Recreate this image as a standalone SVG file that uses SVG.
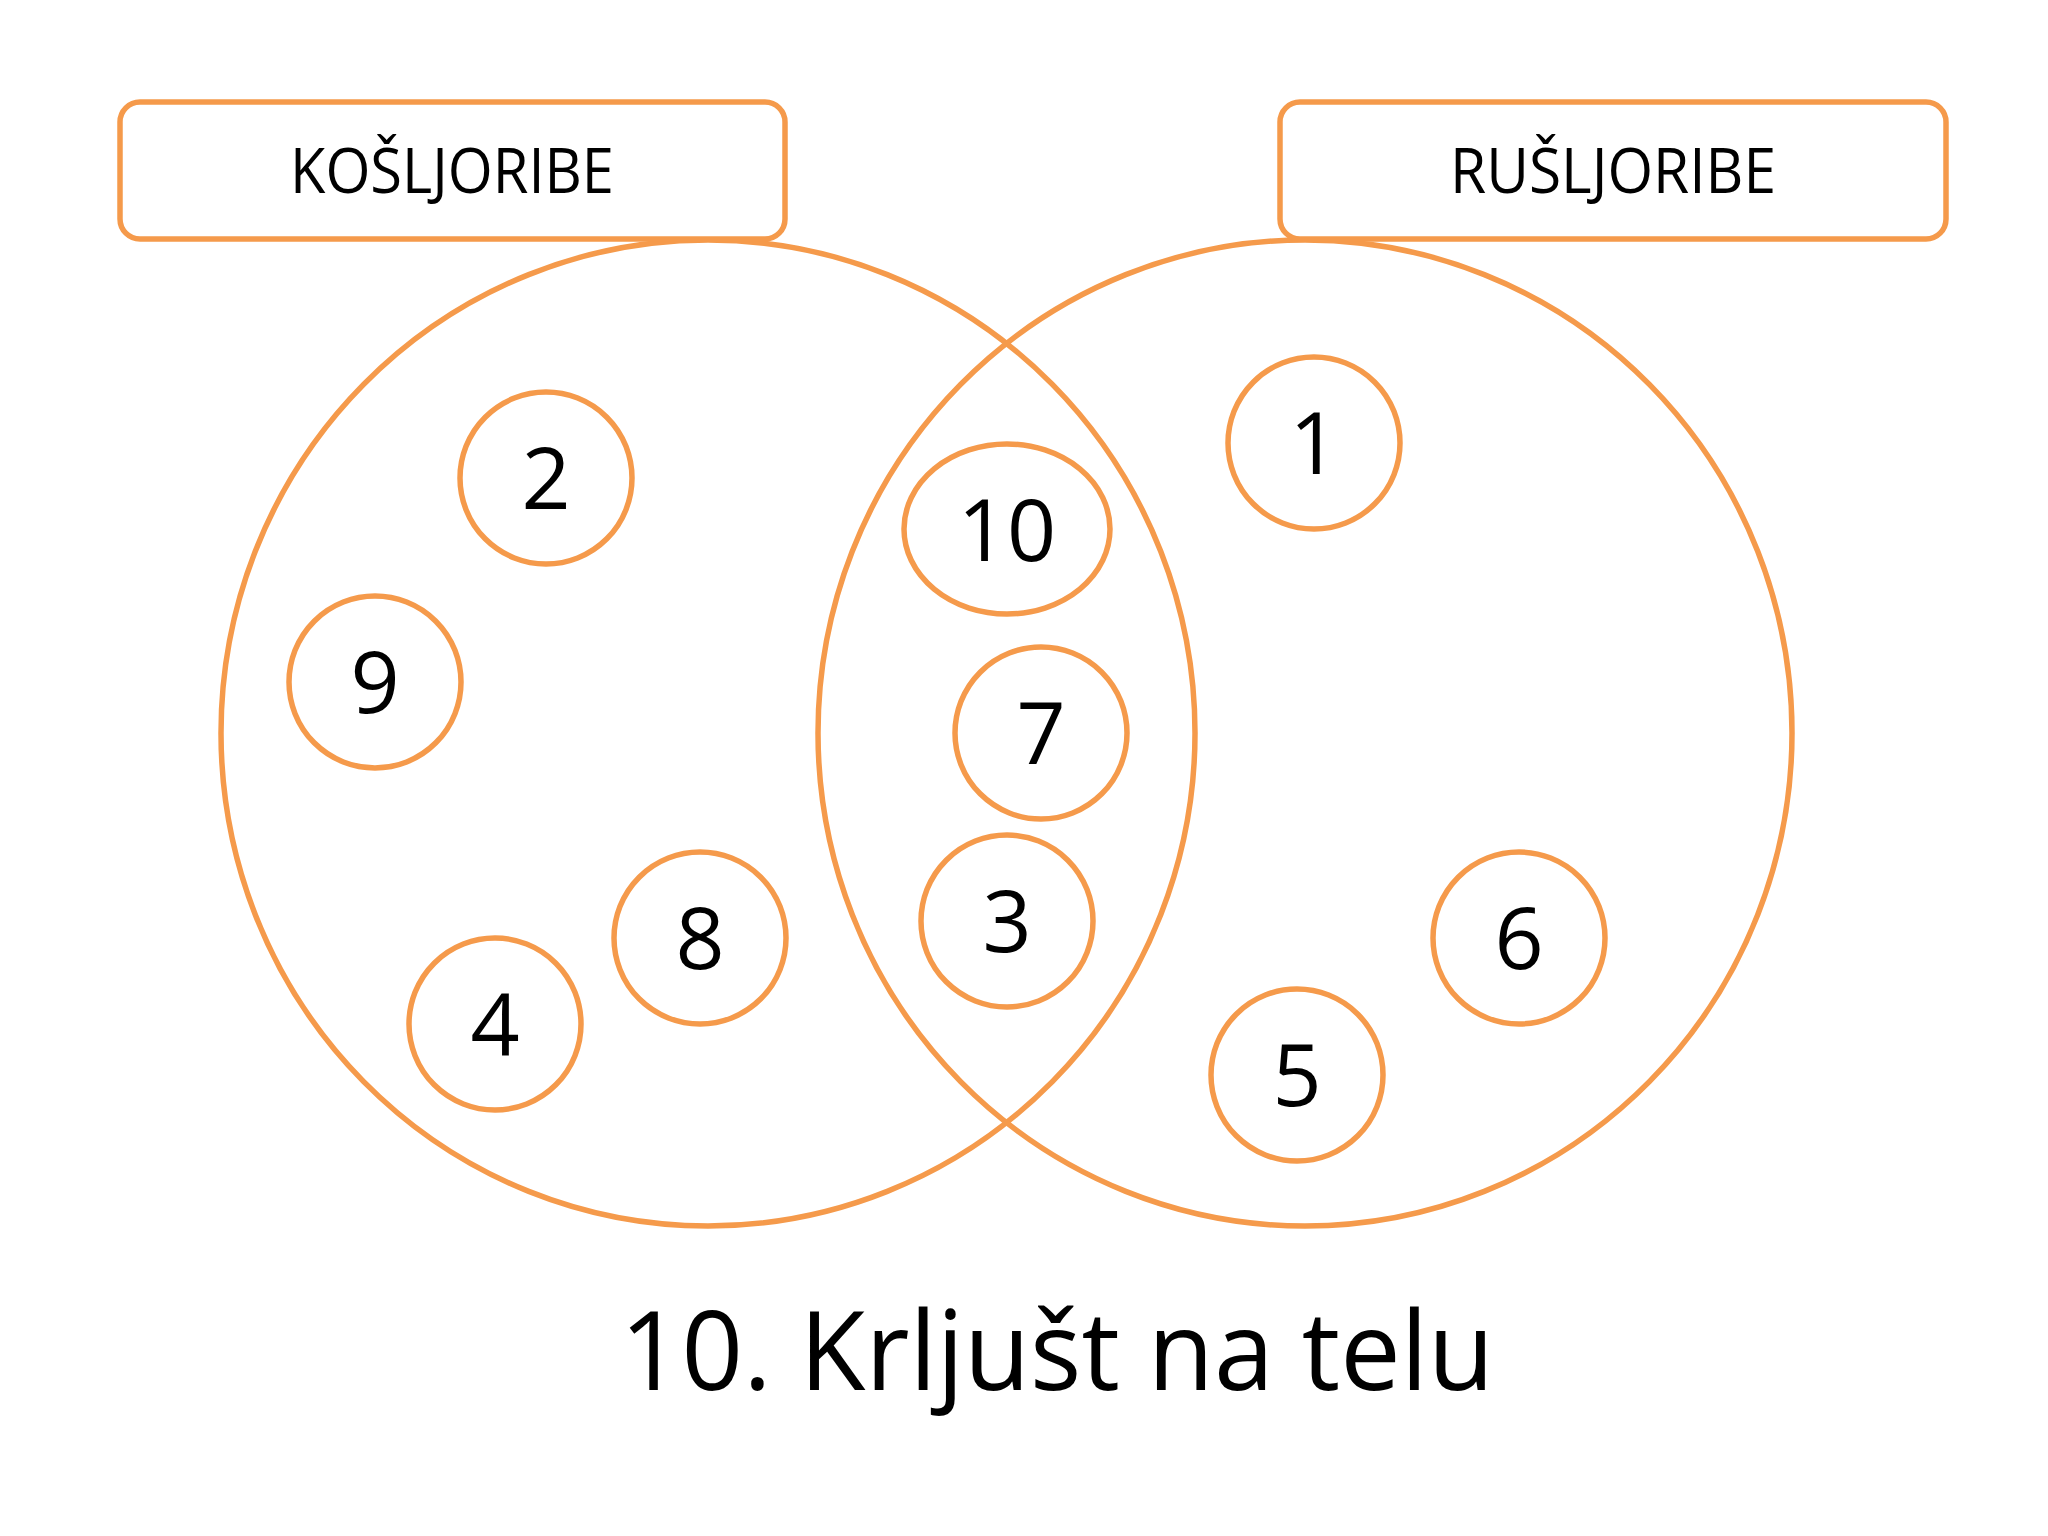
<svg xmlns="http://www.w3.org/2000/svg" width="2048" height="1536" viewBox="0 0 2048 1536">
<style>
.o{fill:none;stroke:#F59A4B;stroke-width:5.5}
.b{fill:#fff;stroke:#F59A4B;stroke-width:5.5}
.t{font-family:"Open Sans","Liberation Sans",sans-serif;fill:#000;text-anchor:middle}
.n{font-size:86px}
.h{font-size:63px}
</style>
<rect width="2048" height="1536" fill="#fff"/>
<g id="set-left"><ellipse class="o" cx="708" cy="733" rx="487" ry="493"/></g>
<g id="set-right"><ellipse class="o" cx="1305" cy="733" rx="487" ry="493"/></g>
<g id="label-left"><rect class="b" x="120" y="102" width="665" height="137" rx="20"/><text class="t h" x="452" y="193" textLength="324" lengthAdjust="spacingAndGlyphs">KOŠLJORIBE</text></g>
<g id="label-right"><rect class="b" x="1280" y="102" width="666" height="137" rx="20"/><text class="t h" x="1613" y="193" textLength="326" lengthAdjust="spacingAndGlyphs">RUŠLJORIBE</text></g>
<g id="n2"><circle class="o" cx="546" cy="478" r="86"/><text class="t n" x="546" y="509">2</text></g>
<g id="n9"><circle class="o" cx="375" cy="682" r="86"/><text class="t n" x="375" y="713">9</text></g>
<g id="n8"><circle class="o" cx="700" cy="938" r="86"/><text class="t n" x="700" y="969">8</text></g>
<g id="n4"><circle class="o" cx="495" cy="1024" r="86"/><text class="t n" x="495" y="1055">4</text></g>
<g id="n10"><ellipse class="o" cx="1007" cy="529" rx="103" ry="85"/><text class="t n" x="1007" y="561">10</text></g>
<g id="n7"><circle class="o" cx="1041" cy="733" r="86"/><text class="t n" x="1041" y="764">7</text></g>
<g id="n3"><circle class="o" cx="1007" cy="921" r="86"/><text class="t n" x="1007" y="952">3</text></g>
<g id="n1"><circle class="o" cx="1314" cy="443" r="86"/><text class="t n" x="1314" y="474">1</text></g>
<g id="n6"><circle class="o" cx="1519" cy="938" r="86"/><text class="t n" x="1519" y="969">6</text></g>
<g id="n5"><circle class="o" cx="1297" cy="1075" r="86"/><text class="t n" x="1297" y="1106">5</text></g>
<g id="connectors"></g>
<g id="title"><text class="t" style="font-size:110px" x="1057" y="1390" textLength="874" lengthAdjust="spacingAndGlyphs">10. Krljušt na telu</text></g>
</svg>
